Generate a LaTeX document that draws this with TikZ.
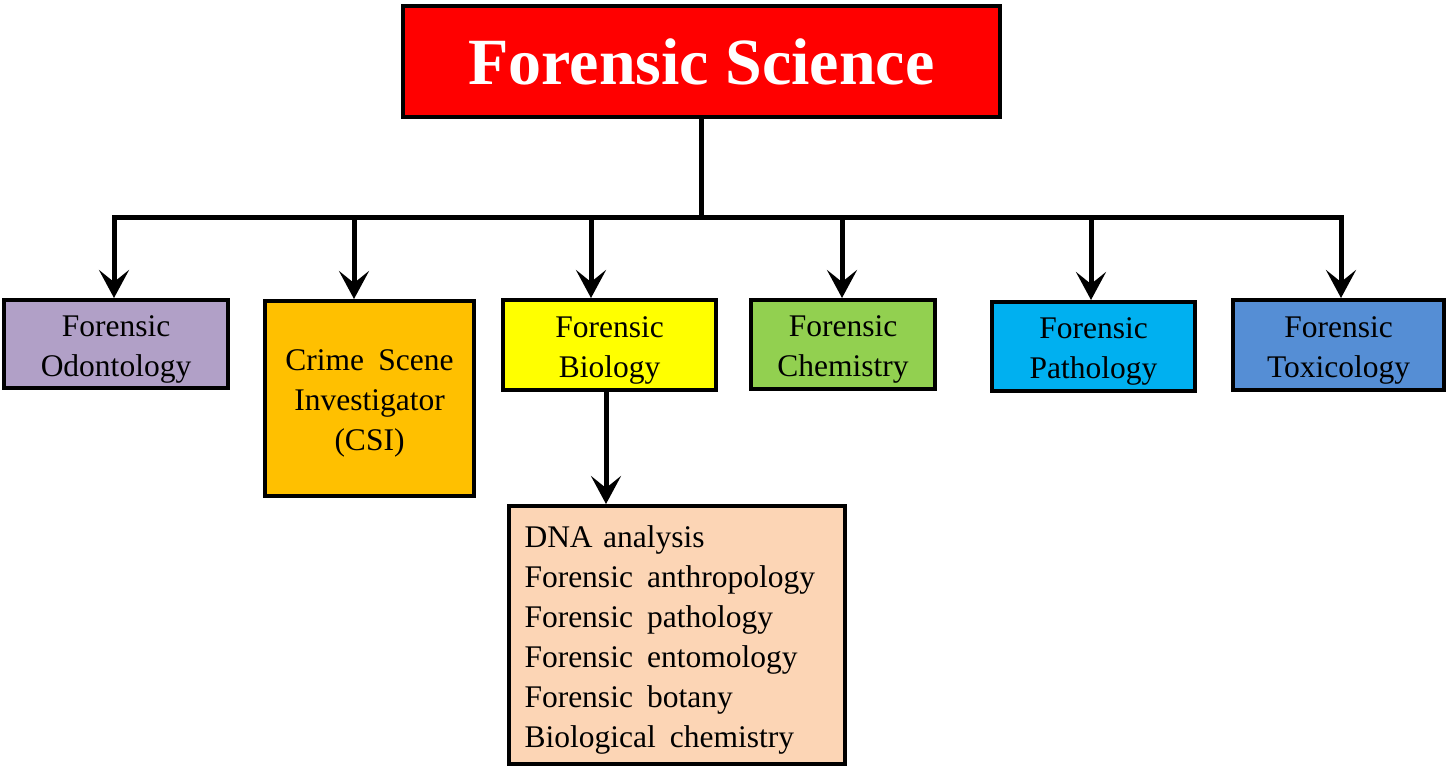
\documentclass[tikz,border=0pt]{standalone}
\usepackage{fontspec}
\setmainfont{Liberation Serif}
\usepackage{xcolor}
\usepackage{tikz}
\usetikzlibrary{arrows.meta}
\definecolor{scired}{HTML}{FF0000}
\definecolor{odontcol}{HTML}{B1A0C7}
\definecolor{csicol}{HTML}{FFC000}
\definecolor{biocol}{HTML}{FFFF00}
\definecolor{chemcol}{HTML}{92D050}
\definecolor{pathcol}{HTML}{00B0F0}
\definecolor{toxcol}{HTML}{558ED5}
\definecolor{listcol}{HTML}{FCD5B5}
\newcommand{\wgap}{\hspace{0.45em}}
\newcommand{\boxtop}{\rule{0pt}{15.5pt}}

\begin{document}
\begin{tikzpicture}[x=0.5pt,y=-0.5pt,
  field/.style={draw,line width=2pt,inner sep=0pt,align=center,
    font=\fontsize{15.75}{20}\selectfont},
  wire/.style={line width=2.5pt},
  link/.style={line width=2.5pt,-{Stealth[length=14pt,width=15pt,inset=6pt]}}]
\useasboundingbox (0,0) rectangle (1449,776);
\node[draw,line width=1.75pt,fill=scired,text=white,inner sep=0pt,
  minimum width=298.5pt,minimum height=55.5pt,
  font=\fontsize{33}{36}\selectfont\bfseries] (sci) at (701.5,61.5) {Forensic Science};
\node[field,fill=odontcol,minimum width=112pt,minimum height=44pt] (odont) at (116,344) {\boxtop Forensic\\Odontology};
\node[field,fill=csicol,minimum width=104.5pt,minimum height=97.5pt] (csi) at (369.5,398.5) {\boxtop Crime\wgap Scene\\Investigator\\(CSI)};
\node[field,fill=biocol,minimum width=106.5pt,minimum height=45pt] (bio) at (609.5,345) {\boxtop Forensic\\Biology};
\node[field,fill=chemcol,minimum width=92pt,minimum height=44.5pt] (chem) at (843,344.5) {\boxtop Forensic\\Chemistry};
\node[field,fill=pathcol,minimum width=101.5pt,minimum height=44.5pt] (path) at (1093.5,346.5) {\boxtop Forensic\\Pathology};
\node[field,fill=toxcol,minimum width=105.5pt,minimum height=45pt] (tox) at (1338.5,345) {\boxtop Forensic\\Toxicology};
\node[field,fill=listcol,align=left,text width=152pt,inner xsep=8pt,
  minimum height=129pt] (list) at (676.5,635) {\boxtop DNA analysis\\Forensic\wgap anthropology\\Forensic\wgap pathology\\Forensic\wgap entomology\\Forensic\wgap botany\\Biological\wgap chemistry};
\coordinate (b1) at (114,217);
\coordinate (b2) at (354,217);
\coordinate (b3) at (591,217);
\coordinate (b4) at (842,217);
\coordinate (b5) at (1091,217);
\coordinate (b6) at (1341,217);
\coordinate (bl) at (606,0);
\draw[wire] (sci.south) -- (sci.south |- b1);
\draw[wire,line cap=rect] (b1) -- (b6);
\draw[link] (b1) -- (b1 |- odont.north);
\draw[link] (b2) -- (b2 |- csi.north);
\draw[link] (b3) -- (b3 |- bio.north);
\draw[link] (b4) -- (b4 |- chem.north);
\draw[link] (b5) -- (b5 |- path.north);
\draw[link] (b6) -- (b6 |- tox.north);
\draw[link] (bio.south -| bl) -- (list.north -| bl);
\end{tikzpicture}
\end{document}
